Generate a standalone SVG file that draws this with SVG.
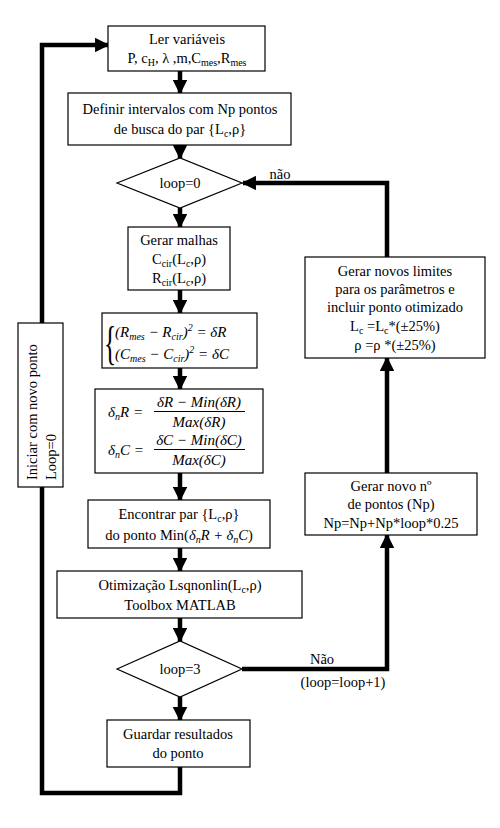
<svg xmlns="http://www.w3.org/2000/svg" width="500" height="828" viewBox="0 0 500 828" font-family="'Liberation Serif', 'DejaVu Serif', serif">
<style>
.box{fill:#fff;stroke:#000;stroke-width:1.2}
.t{font-family:'Liberation Serif','DejaVu Serif',serif;font-size:14.5px;fill:#000;text-anchor:middle}
.m{font-family:'Liberation Serif','DejaVu Serif',serif;font-style:italic;font-size:15px;fill:#000}
.sub{font-size:10px}
.c{fill:none;stroke:#000;stroke-width:4.5}
</style>
<defs>
<marker id="ah" viewBox="0 0 10 10" refX="9" refY="5" markerWidth="3.2" markerHeight="3.2" orient="auto" markerUnits="strokeWidth">
<path d="M0,0 L10,5 L0,10 Z" fill="#000"/>
</marker>
</defs>
<rect width="500" height="828" fill="#fff"/>

<g id="connectors">
<line class="c" x1="180" y1="71" x2="180" y2="93" marker-end="url(#ah)"/>
<line class="c" x1="180" y1="145" x2="180" y2="158" marker-end="url(#ah)"/>
<line class="c" x1="180" y1="208" x2="180" y2="227" marker-end="url(#ah)"/>
<line class="c" x1="180" y1="290" x2="180" y2="313" marker-end="url(#ah)"/>
<line class="c" x1="180" y1="368" x2="180" y2="389" marker-end="url(#ah)"/>
<line class="c" x1="180" y1="473" x2="180" y2="500" marker-end="url(#ah)"/>
<line class="c" x1="180" y1="548" x2="180" y2="571" marker-end="url(#ah)"/>
<line class="c" x1="180" y1="618" x2="180" y2="641" marker-end="url(#ah)"/>
<line class="c" x1="180" y1="697" x2="180" y2="720" marker-end="url(#ah)"/>
<polyline class="c" points="180,767 180,793 42,793 42,45 108,45" marker-end="url(#ah)"/>
<polyline class="c" points="242,669 387,669 387,535" marker-end="url(#ah)"/>
<line class="c" x1="387" y1="473" x2="387" y2="358" marker-end="url(#ah)"/>
<polyline class="c" points="387,257 387,183 243,183" marker-end="url(#ah)"/>
<text class="t" x="280" y="179">não</text>
<text class="t" x="322" y="664">Não</text>
<text class="t" x="343" y="687">(loop=loop+1)</text>
</g>

<g id="n1">
<rect class="box" x="108" y="26" width="157" height="45"/>
<text class="t" x="187" y="44">Ler variáveis</text>
<text class="t" x="187" y="63">P, c<tspan class="sub" dy="3">H</tspan><tspan dy="-3">, λ ,m,C</tspan><tspan class="sub" dy="3">mes</tspan><tspan dy="-3">,R</tspan><tspan class="sub" dy="3">mes</tspan></text>
</g>

<g id="n2">
<rect class="box" x="68" y="93" width="223" height="52"/>
<text class="t" x="180" y="114">Definir intervalos com Np pontos</text>
<text class="t" x="180" y="134">de busca do par {L<tspan class="sub" dy="3">c</tspan><tspan dy="-3">,ρ}</tspan></text>
</g>

<g id="d1">
<polygon class="box" points="117,183 180,158 242,183 180,208"/>
<text class="t" x="180" y="188">loop=0</text>
</g>

<g id="n3">
<rect class="box" x="128" y="227" width="102" height="63"/>
<text class="t" x="179" y="245">Gerar malhas</text>
<text class="t" x="179" y="264">C<tspan class="sub" dy="3">cir</tspan><tspan dy="-3">(L</tspan><tspan class="sub" dy="3">c</tspan><tspan dy="-3">,ρ)</tspan></text>
<text class="t" x="179" y="283">R<tspan class="sub" dy="3">cir</tspan><tspan dy="-3">(L</tspan><tspan class="sub" dy="3">c</tspan><tspan dy="-3">,ρ)</tspan></text>
</g>

<g id="n4">
<rect class="box" x="102" y="313" width="155" height="55"/>
<text x="104" y="359" font-size="46" transform="translate(104 0) scale(0.55 1) translate(-104 0)">{</text>
<text class="m" x="115" y="337">(R<tspan class="sub" dy="3">mes</tspan><tspan dy="-3"> − R</tspan><tspan class="sub" dy="3">cir</tspan><tspan dy="-3">)</tspan><tspan class="sub" dy="-6">2</tspan><tspan dy="6"> = δR</tspan></text>
<text class="m" x="115" y="359">(C<tspan class="sub" dy="3">mes</tspan><tspan dy="-3"> − C</tspan><tspan class="sub" dy="3">cir</tspan><tspan dy="-3">)</tspan><tspan class="sub" dy="-6">2</tspan><tspan dy="6"> = δC</tspan></text>
</g>

<g id="n5">
<rect class="box" x="95" y="389" width="168" height="84"/>
<text class="m" x="108" y="417">δ<tspan class="sub" dy="3">n</tspan><tspan dy="-3">R =</tspan></text>
<text class="m" x="199" y="407" text-anchor="middle">δR − Min(δR)</text>
<line x1="154" y1="411.5" x2="245" y2="411.5" stroke="#000" stroke-width="1"/>
<text class="m" x="199" y="427" text-anchor="middle">Max(δR)</text>
<text class="m" x="108" y="455">δ<tspan class="sub" dy="3">n</tspan><tspan dy="-3">C =</tspan></text>
<text class="m" x="199" y="445" text-anchor="middle">δC − Min(δC)</text>
<line x1="154" y1="449.5" x2="245" y2="449.5" stroke="#000" stroke-width="1"/>
<text class="m" x="199" y="465" text-anchor="middle">Max(δC)</text>
</g>

<g id="n6">
<rect class="box" x="88" y="500" width="182" height="48"/>
<text class="t" x="179" y="519">Encontrar par {L<tspan class="sub" dy="3">c</tspan><tspan dy="-3">,ρ}</tspan></text>
<text class="t" x="179" y="540">do ponto Min(<tspan font-style="italic">δ</tspan><tspan font-style="italic" class="sub" dy="3">n</tspan><tspan font-style="italic" dy="-3">R + δ</tspan><tspan font-style="italic" class="sub" dy="3">n</tspan><tspan font-style="italic" dy="-3">C</tspan>)</text>
</g>

<g id="n7">
<rect class="box" x="57" y="571" width="245" height="47"/>
<text class="t" x="180" y="590">Otimização Lsqnonlin(L<tspan class="sub" dy="3">c</tspan><tspan dy="-3">,ρ)</tspan></text>
<text class="t" x="180" y="610">Toolbox MATLAB</text>
</g>

<g id="d2">
<polygon class="box" points="117,669 180,641 242,669 180,697"/>
<text class="t" x="180" y="674">loop=3</text>
</g>

<g id="n8">
<rect class="box" x="107" y="720" width="143" height="47"/>
<text class="t" x="178" y="739">Guardar resultados</text>
<text class="t" x="178" y="758">do ponto</text>
</g>

<g id="n9">
<rect class="box" x="18" y="323" width="45" height="164"/>
<text class="t" style="text-anchor:start" transform="translate(37 480) rotate(-90)">Iniciar com novo ponto</text>
<text class="t" style="text-anchor:start" transform="translate(56 480) rotate(-90)">Loop=0</text>
</g>

<g id="n10">
<rect class="box" x="305" y="257" width="180" height="101"/>
<text class="t" x="395" y="276">Gerar novos limites</text>
<text class="t" x="395" y="294">para os parâmetros e</text>
<text class="t" x="395" y="312">incluir ponto otimizado</text>
<text class="t" x="395" y="331">L<tspan class="sub" dy="3">c</tspan><tspan dy="-3"> =L</tspan><tspan class="sub" dy="3">c</tspan><tspan dy="-3">*(±25%)</tspan></text>
<text class="t" x="395" y="350">ρ =ρ *(±25%)</text>
</g>

<g id="n11">
<rect class="box" x="305" y="473" width="172" height="62"/>
<text class="t" x="391" y="491">Gerar novo nº</text>
<text class="t" x="391" y="509">de pontos (Np)</text>
<text class="t" x="391" y="528">Np=Np+Np*loop*0.25</text>
</g>
</svg>
